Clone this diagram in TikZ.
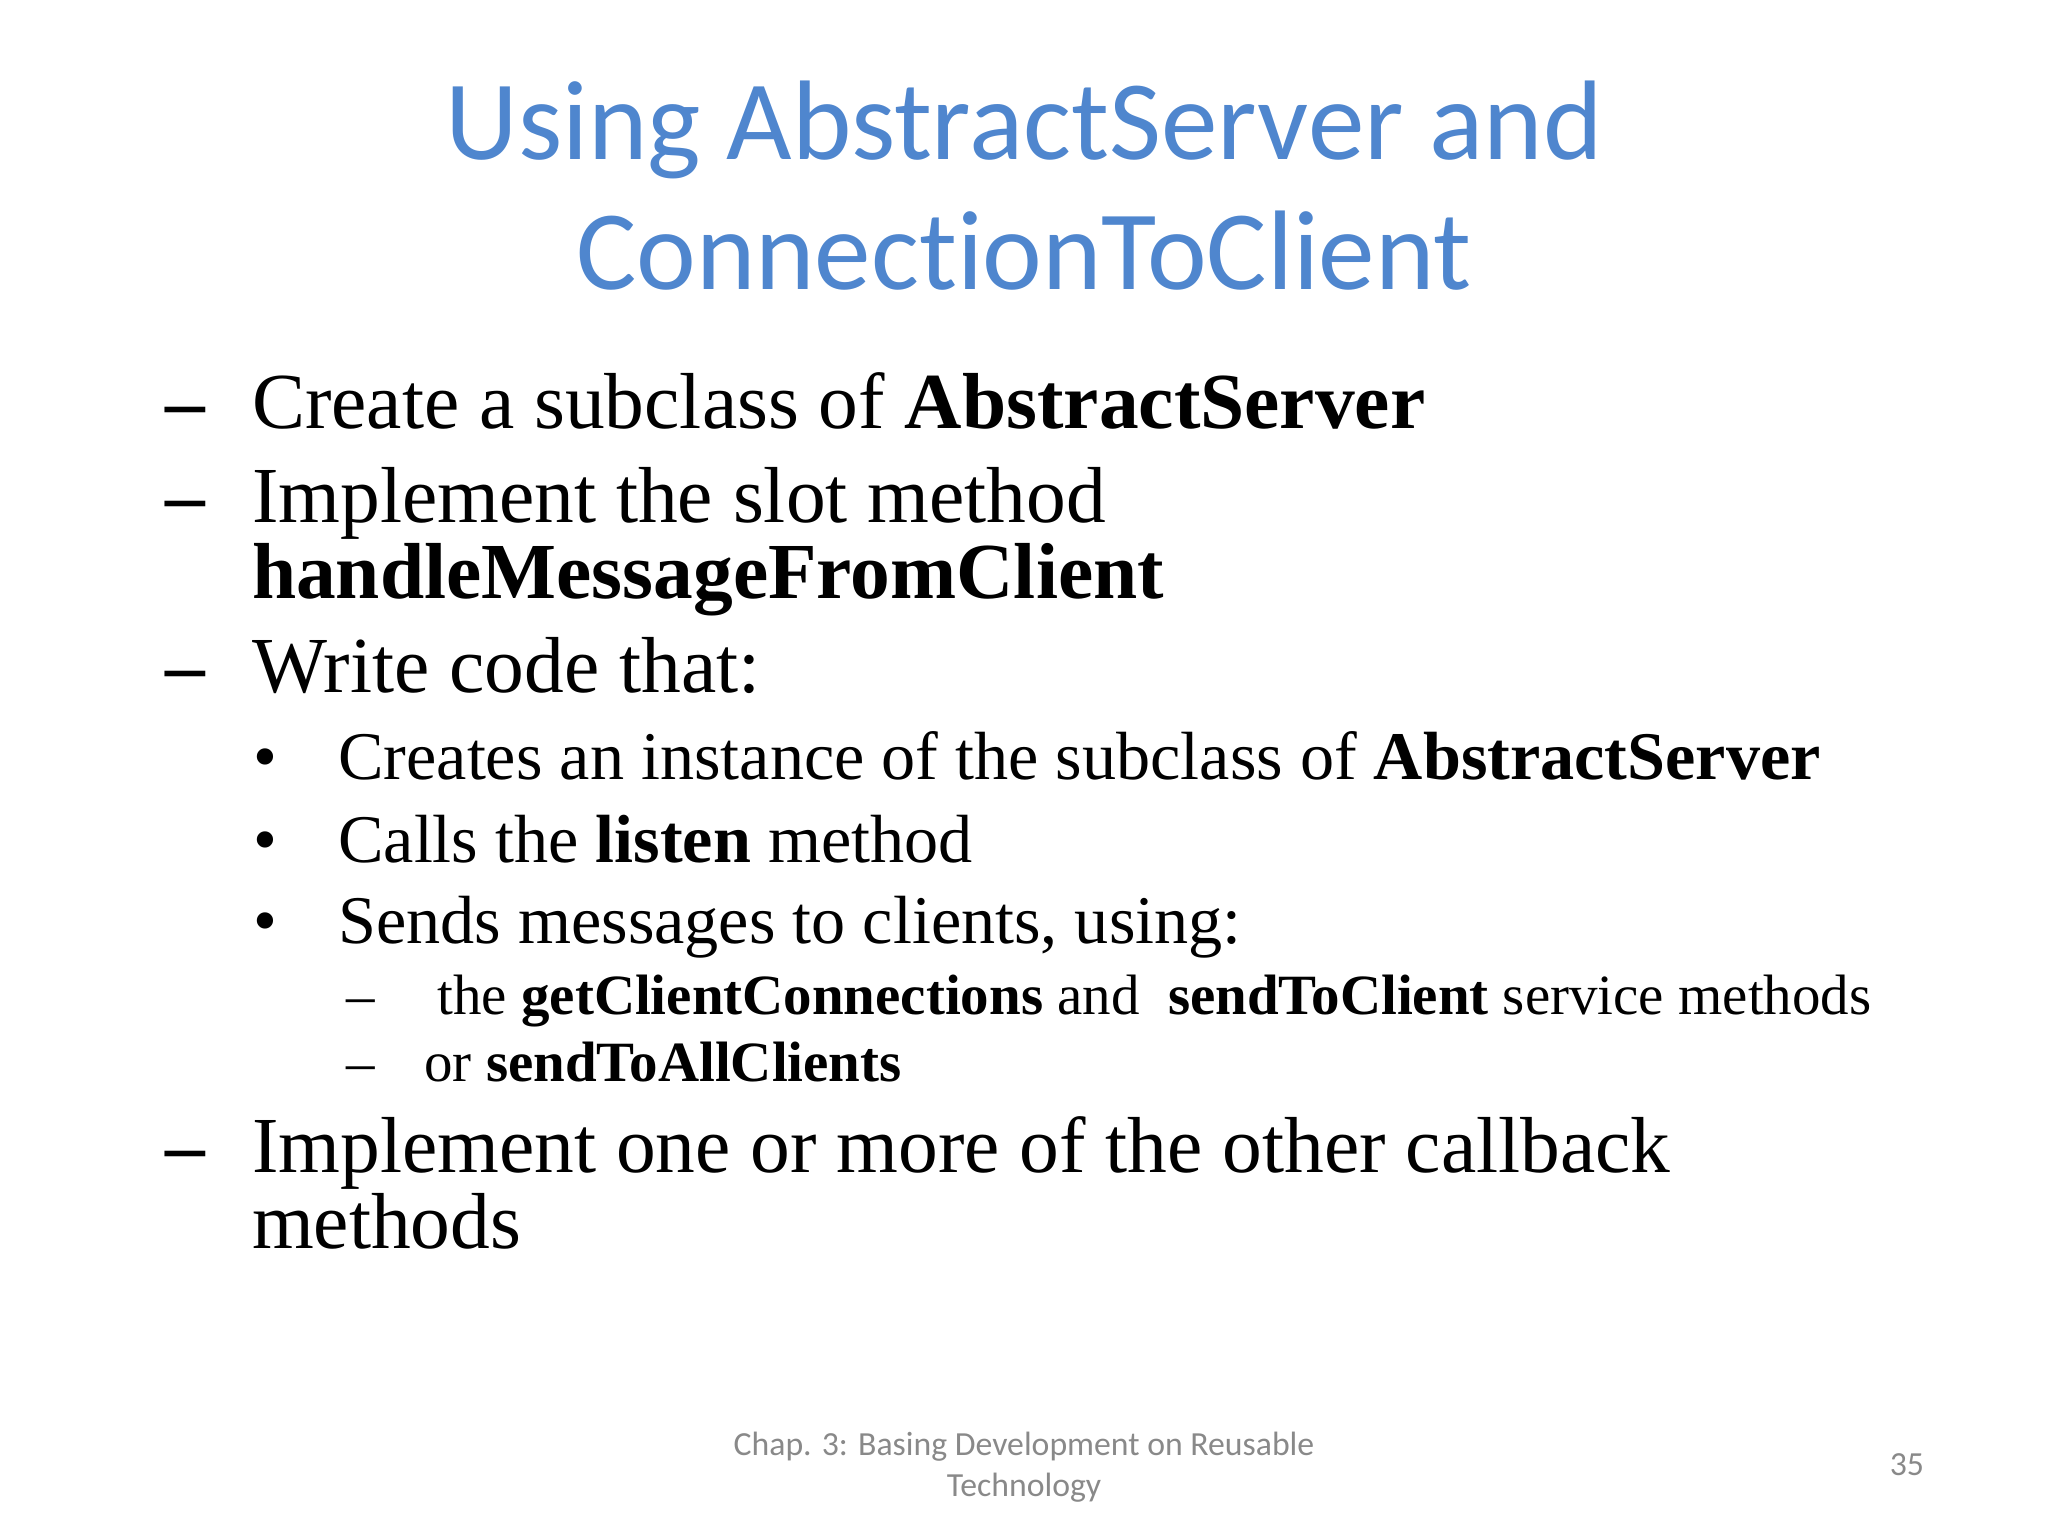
\documentclass[tikz,border=0pt]{standalone}
\usepackage{fontspec}
\setmainfont{Liberation Serif}
\newfontfamily\calib[Ligatures=NoCommon]{Carlito}
\definecolor{titleblue}{RGB}{79,134,206}
\definecolor{footgrey}{RGB}{137,137,137}
\begin{document}
\begin{tikzpicture}[x=0.01306cm,y=-0.01306cm,
  every node/.style={inner sep=0pt,outer sep=0pt},
  ttl/.style={anchor=base,font=\calib\fontsize{32.2}{32}\selectfont,text=titleblue},
  lone/.style={anchor=base west,font=\fontsize{22.6}{22}\selectfont},
  ltwo/.style={anchor=base west,font=\fontsize{19.4}{19}\selectfont},
  lthree/.style={anchor=base west,font=\fontsize{16.2}{16}\selectfont},
  foot/.style={anchor=base,font=\calib\fontsize{9.6}{9}\selectfont,text=footgrey}]
\useasboundingbox (0,0) rectangle (1568,1176);
\node[ttl] (t1) at (784,122) {Using AbstractServer and};
\node[ttl] (t2) at (784,222) {ConnectionToClient};
% level 1
\node[lone] (d1) at (127,328) {\textbf{–}};
\node[lone] (a1) at (193,328) {Create a subclass of \textbf{AbstractServer}};
\node[lone] (d2) at (127,400) {\textbf{–}};
\node[lone] (a2) at (193,400) {Implement the slot method};
\node[lone] (a2b) at (193,458) {\textbf{handleMessageFromClient}};
\node[lone] (d3) at (127,530) {\textbf{–}};
\node[lone] (a3) at (193,530) {Write code that:};
% level 2
\node[ltwo] (b1) at (194,597) {•};
\node[ltwo] (c1) at (259,597) {Creates an instance of the subclass of \textbf{AbstractServer}};
\node[ltwo] (b2) at (194,660) {•};
\node[ltwo] (c2) at (259,660) {Calls the \textbf{listen} method};
\node[ltwo] (b3) at (194,722) {•};
\node[ltwo] (c3) at (259,722) {Sends messages to clients, using:};
% level 3
\node[lthree] (e1) at (265,777) {–};
\node[lthree] (f1) at (335,777) {the \textbf{getClientConnections} and\ \ \textbf{sendToClient} service methods};
\node[lthree] (e2) at (265,828) {–};
\node[lthree] (f2) at (325,828) {or \textbf{sendToAllClients}};
% last
\node[lone] (d4) at (127,898) {\textbf{–}};
\node[lone] (a4) at (193,898) {Implement one or more of the other callback};
\node[lone] (a4b) at (193,956) {methods};
% footer
\node[foot] (ft1) at (784,1114) {Chap. 3: Basing Development on Reusable};
\node[foot] (ft2) at (784,1146) {Technology};
\node[foot] (pg) at (1460,1130) {35};
\end{tikzpicture}
\end{document}
